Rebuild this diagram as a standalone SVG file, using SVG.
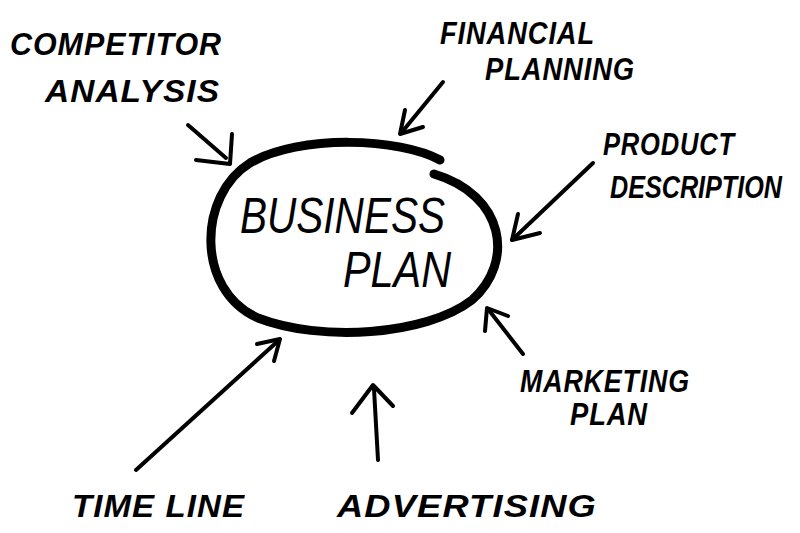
<svg xmlns="http://www.w3.org/2000/svg" width="800" height="533" viewBox="0 0 800 533">
<style>
.lbl{font-family:"Liberation Sans",Arial,sans-serif;font-weight:bold;font-style:italic;fill:#000;font-size:31px;letter-spacing:1px}
.big{font-family:"Liberation Sans",Arial,sans-serif;font-style:italic;fill:#000;font-size:50px}
.c{fill:none;stroke:#000;stroke-width:4;stroke-linecap:round;stroke-linejoin:round}
</style>
<rect width="800" height="533" fill="#fff"/>
<g id="business-plan">
<path d="M440,160 C400,138 300,134 250,163 C198,195 195,290 258,318 C320,342 425,336 472,300 C515,262 505,195 434,174" fill="none" stroke="#000" stroke-width="9" stroke-linecap="round"/>
<text class="big" x="240" y="233" textLength="205" lengthAdjust="spacingAndGlyphs">BUSINESS</text>
<text class="big" x="343" y="287" textLength="108" lengthAdjust="spacingAndGlyphs">PLAN</text>
</g>
<g id="competitor-analysis">
<text class="lbl" x="10" y="55" textLength="212" lengthAdjust="spacingAndGlyphs">COMPETITOR</text>
<text class="lbl" x="45" y="102" textLength="175" lengthAdjust="spacingAndGlyphs">ANALYSIS</text>
</g>
<g id="financial-planning">
<text class="lbl" x="440" y="44" textLength="155" lengthAdjust="spacingAndGlyphs">FINANCIAL</text>
<text class="lbl" x="485" y="80" textLength="150" lengthAdjust="spacingAndGlyphs">PLANNING</text>
</g>
<g id="product-description">
<text class="lbl" x="603" y="155" textLength="132" lengthAdjust="spacingAndGlyphs">PRODUCT</text>
<text class="lbl" transform="translate(610,198) scale(1,1.18)" x="0" y="0" style="font-size:26px;letter-spacing:0" textLength="172" lengthAdjust="spacingAndGlyphs">DESCRIPTION</text>
</g>
<g id="marketing-plan">
<text class="lbl" x="520" y="392" textLength="170" lengthAdjust="spacingAndGlyphs">MARKETING</text>
<text class="lbl" x="570" y="425" textLength="78" lengthAdjust="spacingAndGlyphs">PLAN</text>
</g>
<g id="time-line">
<text class="lbl" x="72" y="517" textLength="173" lengthAdjust="spacingAndGlyphs">TIME LINE</text>
</g>
<g id="advertising">
<text class="lbl" x="337" y="517" textLength="260" lengthAdjust="spacingAndGlyphs">ADVERTISING</text>
</g>
<g id="connectors">
<polyline class="c" points="188,125 226,158"/>
<polyline class="c" points="196,160 230,164 232,134"/>
<polyline class="c" points="443,82 402,132"/>
<polyline class="c" points="405,110 400,134 423,127"/>
<polyline class="c" points="593,163 512,240"/>
<polyline class="c" points="518,214 512,240 540,233"/>
<polyline class="c" points="523,354 488,309"/>
<polyline class="c" points="485,331 487,308 508,316"/>
<polyline class="c" points="378,460 374,389"/>
<polyline class="c" points="352,413 373,385 393,406"/>
<polyline class="c" points="136,470 278,341"/>
<polyline class="c" points="257,344 280,339 274,361"/>
</g>
</svg>
